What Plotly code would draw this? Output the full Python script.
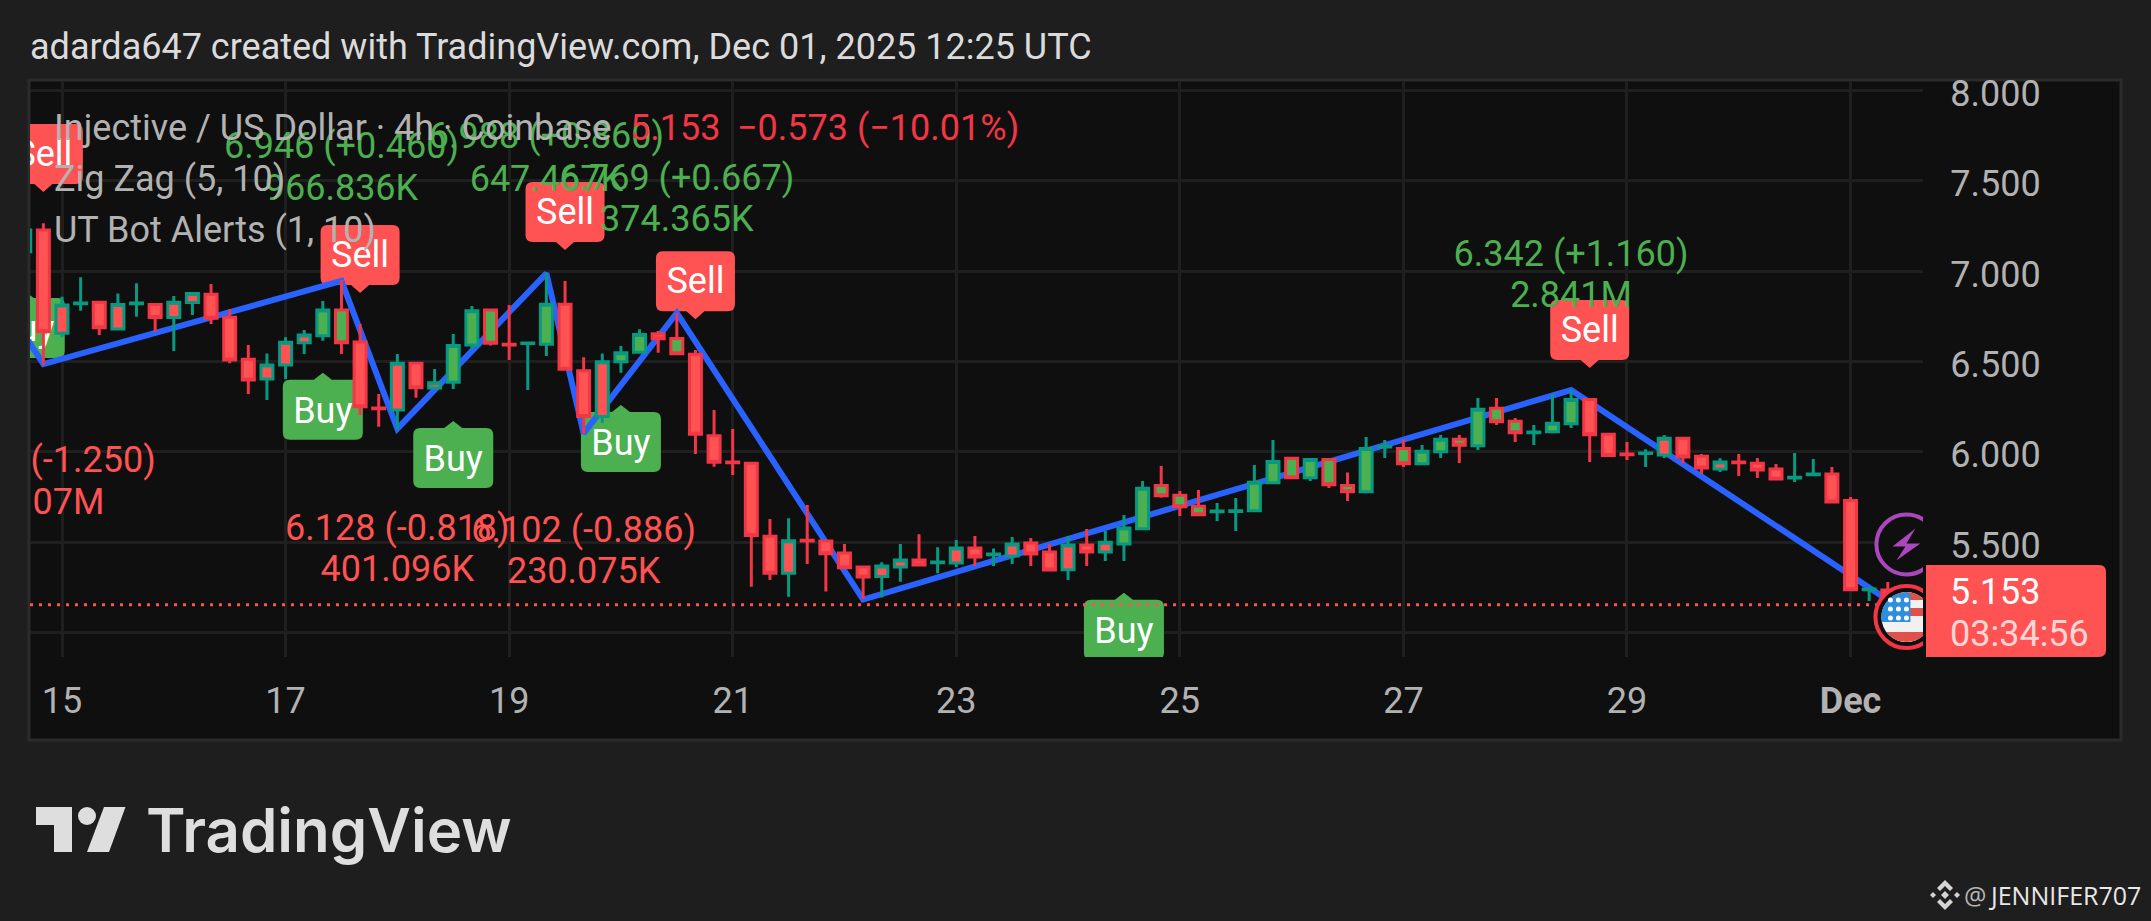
import math
import pandas as pd
import plotly.graph_objects as go

# ---------------- data ----------------
first_bar = -2
opens = [7.108,7.228,6.656,6.820,6.828,6.680,6.820,6.816,6.743,6.826,6.872,6.745,6.512,6.403,6.481,6.604,6.643,6.785,6.608,6.243,
         6.231,6.490,6.353,6.385,6.591,6.785,6.595,6.599,6.595,6.817,6.449,6.195,6.499,6.551,6.654,6.628,6.540,6.089,5.944,5.936,
         5.532,5.327,5.510,5.506,5.440,5.362,5.309,5.362,5.401,5.386,5.384,5.467,5.430,5.423,5.495,5.445,5.347,5.484,5.445,5.489,
         5.574,5.814,5.759,5.698,5.668,5.670,5.674,5.829,5.964,5.857,5.958,5.814,5.779,6.026,6.019,5.934,6.001,6.069,6.034,6.241,
         6.169,6.106,6.111,6.156,6.290,6.097,5.988,5.990,5.982,6.075,5.975,5.905,5.944,5.936,5.905,5.855,5.873,5.877,5.731,5.236,5.235]
highs = [7.228,7.265,6.859,6.966,6.828,6.877,6.933,6.816,6.863,6.877,6.929,6.789,6.591,6.545,6.634,6.674,6.835,6.951,6.708,6.320,
         6.541,6.490,6.458,6.652,6.807,6.794,6.813,6.610,6.988,6.946,6.523,6.545,6.586,6.678,6.669,6.769,6.564,6.231,6.126,5.945,
         5.628,5.632,5.705,5.511,5.489,5.362,5.388,5.489,5.543,5.471,5.512,5.534,5.465,5.528,5.523,5.489,5.534,5.573,5.561,5.650,
         5.838,5.921,5.783,5.788,5.717,5.744,5.927,6.065,5.971,5.958,5.958,5.886,6.082,6.065,6.069,6.038,6.093,6.093,6.298,6.298,
         6.187,6.148,6.320,6.342,6.290,6.097,6.054,6.014,6.093,6.082,5.988,5.964,5.988,5.966,5.932,5.993,5.960,5.916,5.750,5.244,5.279]
lows = [7.108,6.480,6.634,6.781,6.647,6.674,6.748,6.665,6.558,6.757,6.708,6.490,6.320,6.287,6.403,6.541,6.615,6.541,6.204,6.139,
        6.124,6.300,6.353,6.348,6.567,6.588,6.508,6.342,6.530,6.449,6.102,6.161,6.438,6.551,6.549,6.536,5.988,5.918,5.871,5.253,
        5.290,5.198,5.379,5.226,5.358,5.185,5.194,5.281,5.369,5.327,5.362,5.368,5.368,5.379,5.368,5.340,5.290,5.368,5.395,5.395,
        5.574,5.746,5.645,5.652,5.617,5.561,5.667,5.829,5.849,5.838,5.800,5.728,5.779,5.966,5.916,5.934,5.966,5.938,6.010,6.148,
        6.054,6.038,6.111,6.132,5.944,5.979,5.955,5.916,5.966,5.936,5.877,5.888,5.866,5.855,5.849,5.833,5.873,5.716,5.237,5.174,5.153]
closes = [7.228,6.665,6.813,6.824,6.687,6.816,6.824,6.743,6.828,6.877,6.739,6.508,6.397,6.481,6.606,6.647,6.785,6.604,6.250,6.239,
          6.490,6.355,6.383,6.588,6.781,6.601,6.591,6.603,6.817,6.457,6.195,6.499,6.549,6.650,6.626,6.543,6.097,5.942,5.940,5.536,
          5.327,5.508,5.506,5.436,5.358,5.307,5.368,5.401,5.373,5.390,5.467,5.417,5.434,5.489,5.434,5.346,5.484,5.445,5.500,5.578,
          5.798,5.757,5.696,5.652,5.672,5.674,5.831,5.947,5.857,5.958,5.818,5.779,6.019,6.030,5.934,6.003,6.069,6.036,6.235,6.167,
          6.106,6.110,6.158,6.290,6.095,5.979,5.984,5.994,6.075,5.971,5.910,5.944,5.940,5.899,5.849,5.859,5.877,5.722,5.237,5.240,5.153]
# bars whose body is painted green by the UT Bot colouring (all others are red)
green_fill_bars = [-2,1,4,14,15,21,22,23,25,26,30,31,33,47,50,57,58,59,60,61,62,63,64,65,66,67,68,69,70,71,72,73,74,75,76,77,78,79,80,81,85,93,94,97]

zig_bars = [-2,-1,15,18,26,28,33,43,81,98]
zig_vals = [6.643,6.486,6.946,6.128,6.988,6.102,6.769,5.182,6.342,5.180]

sell_bars = [-1,16,27,34,82]
sell_tips = [7.438,6.879,7.117,6.734,6.464]
buy_bars = [-2,14,21,30,57]
buy_tips = [6.890,6.438,6.171,6.259,5.220]

up_label_bars = [15,15,26,26,33,33,81,81]
up_label_vals = [7.675,7.442,7.730,7.492,7.498,7.271,7.080,6.850]
up_label_text = ["6.946 (+0.460)","966.836K","6.988 (+0.860)","647.467K","6.769 (+0.667)","374.365K","6.342 (+1.160)","2.841M"]
dn_label_bars = [-1,-1,18,18,28,28]
dn_label_vals = [5.940,5.707,5.563,5.336,5.552,5.325]
dn_label_text = ["6.486 (-1.250)","1.107M","6.128 (-0.818)","401.096K","6.102 (-0.886)","230.075K"]

last_price = 5.153
price_ticks = [5.0,5.5,6.0,6.5,7.0,7.5,8.0]
price_tick_text = ["","5.500","6.000","6.500","7.000","7.500","8.000"]
date_ticks = ["2025-11-15","2025-11-17","2025-11-19","2025-11-21","2025-11-23","2025-11-25","2025-11-27","2025-11-29","2025-12-01"]
date_tick_text = ["15","17","19","21","23","25","27","29","<b>Dec</b>"]

# ---------------- styling ----------------
W, H = 2151, 921
L, R, T, B = 30, 1923, 81, 657
FONT = "Roboto"
OUTER, PANE, GRID, EDGE = "#1e1e1e", "#0f0f0f", "#1f1f1f", "#2b2b2b"
TEAL, RED, GREEN_F, RED_F, BLUE = "#089981", "#f23645", "#4caf50", "#ff5252", "#2962ff"
GREY = "#b2b2b2"
P_LO, P_HI = 4.864, 8.053
I_LO, I_HI = -1.718, 99.89
PX = (P_HI - P_LO) / (B - T)

def t(i):
    return pd.Timestamp("2025-11-15") + pd.Timedelta(hours=4) * i

def px(x):
    return (x - L) / (R - L)

def py(y):
    return (B - y) / (B - T)

bars = list(range(first_bar, first_bar + len(opens)))
fig = go.Figure()

# text inside the pane is clipped by it, so it is plotted as text marks
def text_trace(bar_list, vals, texts, color, size=36, top=True):
    kw = dict(xaxis="x2", yaxis="y2") if top else {}
    fig.add_trace(go.Scatter(x=[t(i) for i in bar_list], y=vals, text=texts, mode="text",
                             textposition="middle center", textfont=dict(family=FONT, size=size, color=color),
                             hoverinfo="skip", showlegend=False, **kw))

# bubble words, the dotted last-price line and the zigzag all sit under the candles
text_trace(sell_bars, [p + 35 * PX for p in sell_tips], ["Sell"] * len(sell_bars), "#ffffff", top=False)
text_trace(buy_bars, [p - 41 * PX for p in buy_tips], ["Buy"] * len(buy_bars), "#ffffff", top=False)
fig.add_trace(go.Scatter(x=[t(I_LO), t(I_HI)], y=[last_price, last_price], mode="lines",
                         line=dict(color=RED_F, width=3, dash="3px,6px"), hoverinfo="skip", showlegend=False))
fig.add_trace(go.Scatter(x=[t(i) for i in zig_bars], y=zig_vals, mode="lines",
                         line=dict(color=BLUE, width=6), hoverinfo="skip", showlegend=False))

for fill, wanted in ((GREEN_F, True), (RED_F, False)):
    idx = [k for k, b in enumerate(bars) if (b in green_fill_bars) == wanted]
    fig.add_trace(go.Candlestick(
        x=[t(bars[k]) for k in idx], open=[opens[k] for k in idx], high=[highs[k] for k in idx],
        low=[lows[k] for k in idx], close=[closes[k] for k in idx], xaxis="x2", yaxis="y2",
        increasing=dict(line=dict(color=TEAL, width=3), fillcolor=fill),
        decreasing=dict(line=dict(color=RED, width=3), fillcolor=fill),
        hoverinfo="skip", showlegend=False))

text_trace(up_label_bars, up_label_vals, up_label_text, GREEN_F)
text_trace(dn_label_bars, dn_label_vals, dn_label_text, RED_F)

shapes = []
# pane and frame
shapes.append(dict(type="rect", xref="paper", yref="paper", x0=px(L - 1), x1=px(2121), y0=py(740), y1=py(T - 1),
                   fillcolor=PANE, line=dict(color=EDGE, width=3), layer="below"))

def bubble(bar, tip, w, h, r, tri, down):
    """rounded label with a pointer; offsets are pixels from its tip"""
    s = 1 if down else -1
    a, b = s * tri, s * (tri + h)
    hw = w / 2
    c = s * r
    path = (f"M 0 0 L -9 {a} L {-hw + r} {a} Q {-hw} {a} {-hw} {a + c} L {-hw} {b - c} Q {-hw} {b} {-hw + r} {b} "
            f"L {hw - r} {b} Q {hw} {b} {hw} {b - c} L {hw} {a + c} Q {hw} {a} {hw - r} {a} L 9 {a} Z")
    return dict(type="path", xref="x", yref="y", xsizemode="pixel", ysizemode="pixel", xanchor=t(bar), yanchor=tip,
                path=path, fillcolor=(RED_F if down else GREEN_F), line=dict(width=0), layer="between")

for b_, p_ in zip(sell_bars, sell_tips):
    shapes.append(bubble(b_, p_, 79, 60, 7, 8, True))
for b_, p_ in zip(buy_bars, buy_tips):
    shapes.append(bubble(b_, p_, 80, 60, 7, 7, False))

# price tag at the right
shapes.append(dict(type="path", xref="paper", yref="paper", xsizemode="pixel", ysizemode="pixel", xanchor=px(1926), yanchor=py(565),
                   path="M 0 0 L 173 0 Q 180 0 180 -7 L 180 -85 Q 180 -92 173 -92 L 0 -92 Z",
                   fillcolor=RED_F, line=dict(width=0), layer="above"))

# event icons, clipped by the pane
def icon(bar, price, **kw):
    d = dict(xref="x", yref="y", xsizemode="pixel", ysizemode="pixel", xanchor=t(bar), yanchor=price, layer="above")
    d.update(kw)
    return d

def circle(bar, price, r, cx=0, cy=0, **kw):
    return icon(bar, price, type="circle", x0=cx - r, x1=cx + r, y0=cy - r, y1=cy + r, **kw)

def chord(r, y_top, y_bot, x_min=None, x_max=None):
    """polygon for the part of a disc between two heights (pixels up from its centre)"""
    n = 10
    ys = [y_top + (y_bot - y_top) * k / n for k in range(n + 1)]
    right = [(math.sqrt(max(r * r - y * y, 0)), y) for y in ys]
    left = [(-x, y) for x, y in reversed(right)]
    if x_max is not None:
        right = [(min(x, x_max), y) for x, y in right]
    if x_min is not None:
        left = [(max(x, x_min), y) for x, y in left]
    pts = right + left
    return "M " + " L ".join(f"{x:.1f} {y:.1f}" for x, y in pts) + " Z"

shapes.append(circle(99, 5.487, 30, line=dict(color="#ab47bc", width=4), fillcolor=PANE))
shapes.append(icon(99, 5.487, type="path", fillcolor="#ab47bc", line=dict(width=0),
                   path="M 9 16 L -14 -2 L -1 -2 L -10 -16 L 14 1 L 0 1 Z"))
shapes.append(circle(99, 5.085, 31, line=dict(color=RED, width=4), fillcolor=PANE))
shapes.append(circle(99, 5.085, 25, line=dict(width=0), fillcolor="#f1f1f1"))
for top_, bot_ in ((25, 17), (9, 1), (-15, -25)):
    shapes.append(icon(99, 5.085, type="path", fillcolor="#e2504c", line=dict(width=0), path=chord(25, top_, bot_)))
shapes.append(icon(99, 5.085, type="path", fillcolor="#2e8fe0", line=dict(width=0), path=chord(25, 25, -5, x_max=4)))
for sx in (-16, -8, 0):
    for sy in (17, 8, -1):
        shapes.append(circle(99, 5.085, 2.5, cx=sx, cy=sy, line=dict(width=0), fillcolor="#ffffff"))

# TradingView mark
def logo(path, color="#dedede"):
    return dict(type="path", xref="paper", yref="paper", xsizemode="pixel", ysizemode="pixel",
                xanchor=0 - L / (R - L), yanchor=(B - H) / (B - T), path=path, line=dict(width=0),
                fillcolor=color, layer="above")

def scr(points):
    return "M " + " L ".join(f"{x} {H - y}" for x, y in points) + " Z"

shapes.append(logo(scr([(36, 807), (72, 807), (72, 852), (54, 852), (54, 825), (36, 825)])))
shapes.append(logo(scr([(104, 807), (125.5, 807), (109, 852), (87, 852)])))
shapes.append(dict(type="circle", xref="paper", yref="paper", x0=px(78), x1=px(96), y0=py(825), y1=py(807),
                   fillcolor="#dedede", line=dict(width=0), layer="above"))
# diamond mark next to the handle
MARK = "#d4d4d4"
cx, cy = 1945, 895
for dx, r in ((0, 4), (-12, 3), (12, 3)):
    shapes.append(logo(scr([(cx + dx - r, cy), (cx + dx, cy - r), (cx + dx + r, cy), (cx + dx, cy + r)]), MARK))
for s in (-1, 1):
    shapes.append(logo(scr([(cx, cy + s * 15), (cx + 8, cy + s * 7), (cx + 5, cy + s * 4), (cx, cy + s * 9),
                            (cx - 5, cy + s * 4), (cx - 8, cy + s * 7)]), MARK))

def note(x, y, text, size=36, color=GREY, anchor="left", family=FONT, weight=None):
    font = dict(family=family, size=size, color=color)
    if weight:
        font["weight"] = weight
    return dict(xref="paper", yref="paper", x=px(x), y=py(y), text=text, showarrow=False, xanchor=anchor, yanchor="middle",
                font=font, borderpad=0, borderwidth=0)

annotations = [
    note(30, 47, "adarda647 created with TradingView.com, Dec 01, 2025 12:25 UTC", color="#dbdbdb"),
    note(54, 128, "Injective / US Dollar · 4h · Coinbase"),
    note(630, 128, "5.153", color=RED),
    note(737, 128, "−0.573 (−10.01%)", color=RED),
    note(54, 179, "Zig Zag (5, 10)"),
    note(54, 230, "UT Bot Alerts (1, 10)"),
    note(1950, 592, "5.153", color="#ffffff"),
    note(1950, 634, "03:34:56", color="#ffd6d6"),
    note(146, 830, "TradingView", size=60, color="#dedede", family="Inter", weight=600),
    note(1964, 895, "@", size=25, color="#b5b5b5", family="Open Sans"),
    note(1989, 895, "JENNIFER707", size=25, color="#e8e8e8", family="Open Sans"),
]

x_axis = dict(range=[t(I_LO), t(I_HI)], type="date", tickmode="array", tickvals=date_ticks, ticktext=date_tick_text,
              showgrid=True, gridcolor=GRID, gridwidth=3, zeroline=False, showline=False, ticks="outside", ticklen=12,
              tickcolor="rgba(0,0,0,0)", tickfont=dict(family=FONT, size=36, color=GREY), rangeslider=dict(visible=False),
              tickangle=0)
y_axis = dict(range=[P_LO, P_HI], side="right", tickmode="array", tickvals=price_ticks, ticktext=price_tick_text,
              showgrid=True, gridcolor=GRID, gridwidth=3, zeroline=False, showline=False, ticks="outside", ticklen=19,
              ticklabelshift=3, tickcolor="rgba(0,0,0,0)", tickfont=dict(family=FONT, size=36, color=GREY))

fig.update_layout(
    width=W, height=H, autosize=False, margin=dict(l=L, r=W - R, t=T, b=H - B, pad=0),
    paper_bgcolor=OUTER, plot_bgcolor=PANE, showlegend=False, boxgap=0.356, boxgroupgap=0, boxmode="overlay",
    dragmode=False, xaxis=x_axis, yaxis=y_axis,
    xaxis2=dict(range=[t(I_LO), t(I_HI)], type="date", overlaying="x", visible=False, rangeslider=dict(visible=False)),
    yaxis2=dict(range=[P_LO, P_HI], overlaying="y", visible=False),
    shapes=shapes, annotations=annotations,
)
fig.write_html("out.html", config=dict(displayModeBar=False),
               post_script="document.body.style.margin='0';document.body.style.background='#1e1e1e';document.documentElement.style.overflow='hidden';")
